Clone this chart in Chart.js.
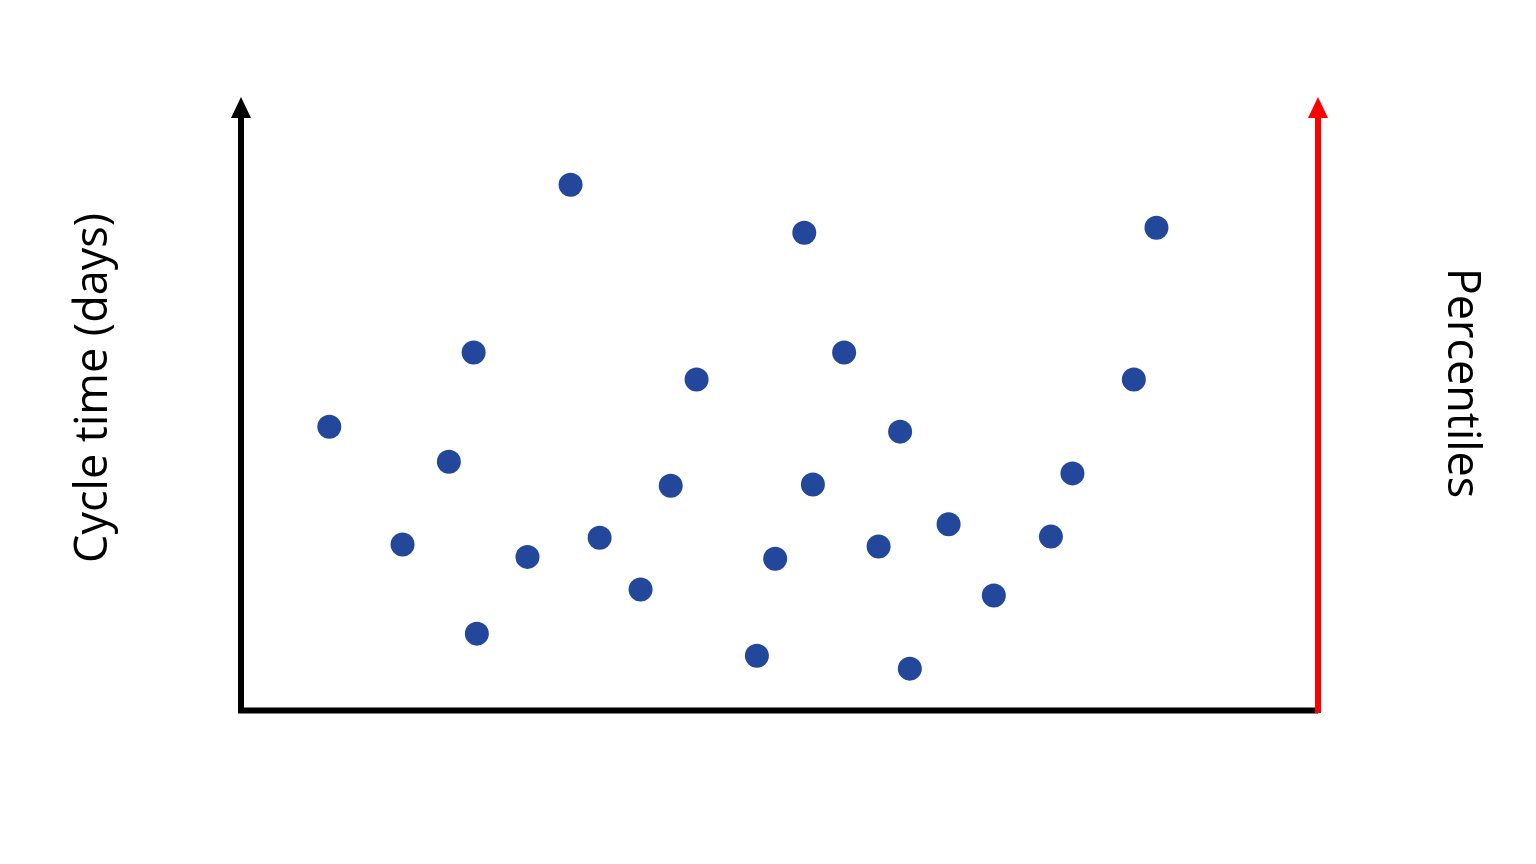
<!DOCTYPE html>
<html>
<head>
<meta charset="utf-8">
<script src="https://cdn.jsdelivr.net/npm/chart.js@4"></script>
<style>
  html, body { margin: 0; padding: 0; background: #ffffff; }
  #wrap { width: 1536px; height: 864px; position: relative; }
</style>
</head>
<body>
<div id="wrap"><canvas id="chartCycle"></canvas></div>
<script>
// puntos (x en % del eje horizontal, y en % del eje vertical)
const xValues = [8.2, 15.0, 19.3, 21.6, 21.9, 26.6, 30.6, 33.3, 37.1, 39.9, 42.3, 47.9, 49.6,
                 52.3, 53.1, 56.0, 59.2, 61.2, 62.1, 65.7, 69.9, 75.2, 77.2, 82.9, 85.0];
const yValues = [46.3, 27.1, 40.6, 58.4, 12.6, 25.1, 85.7, 28.2, 19.8, 36.7, 54.0, 9.0, 24.8,
                 77.9, 36.9, 58.4, 26.8, 45.5, 6.9, 30.4, 18.8, 28.4, 38.7, 54.0, 78.7];
const leftTitle = 'Cycle time (days)';
const rightTitle = 'Percentiles';

let puntos = [];
xValues.forEach((x, i) => {
    puntos.push({ x: x, y: yValues[i] });
});

// ejes con flechas y titulos
const axisArrows = {
    id: 'axisArrows',
    afterDraw(chart) {
        const ctx = chart.ctx;
        const a = chart.chartArea;
        const lw = 6;
        const tipH = 21;
        const halfW = 10;
        ctx.save();
        ctx.lineWidth = lw;
        ctx.lineCap = 'butt';

        // eje x
        ctx.strokeStyle = '#000000';
        ctx.beginPath();
        ctx.moveTo(a.left - lw / 2, a.bottom - 0.5);
        ctx.lineTo(a.right, a.bottom - 0.5);
        ctx.stroke();

        const arrow = (x, color) => {
            ctx.strokeStyle = color;
            ctx.fillStyle = color;
            ctx.beginPath();
            ctx.moveTo(x, a.bottom + 2);
            ctx.lineTo(x, a.top + tipH - 1);
            ctx.stroke();
            ctx.beginPath();
            ctx.moveTo(x, a.top);
            ctx.lineTo(x - halfW, a.top + tipH);
            ctx.lineTo(x + halfW, a.top + tipH);
            ctx.closePath();
            ctx.fill();
        };
        arrow(a.left, '#000000');
        arrow(a.right, '#ff0000');

        // titulos
        ctx.fillStyle = '#000000';
        ctx.font = '45px "Open Sans"';
        ctx.textAlign = 'center';
        ctx.textBaseline = 'alphabetic';

        ctx.save();
        ctx.translate(a.left - 134, 388);
        ctx.rotate(-Math.PI / 2);
        ctx.fillText(leftTitle, 0, 0);
        ctx.restore();

        ctx.save();
        ctx.translate(a.right + 130, 383);
        ctx.rotate(Math.PI / 2);
        ctx.fillText(rightTitle, 0, 0);
        ctx.restore();

        ctx.restore();
    }
};

const ctxCycle = document.getElementById('chartCycle');
const chartCycle = new Chart(ctxCycle, {
    type: 'scatter',
    data: {
        datasets: [{
            label: 'Cycle time',
            data: puntos,
            backgroundColor: '#22479b',
            borderColor: '#22479b',
            borderWidth: 0,
            pointRadius: 12,
            pointHoverRadius: 12
        }]
    },
    options: {
        responsive: true,
        maintainAspectRatio: false,
        animation: false,
        devicePixelRatio: 1,
        layout: {
            padding: { left: 241, right: 218, top: 97, bottom: 153 }
        },
        scales: {
            x: { min: 0, max: 100, display: false },
            y: { min: 0, max: 100, display: false }
        },
        plugins: {
            legend: { display: false },
            tooltip: { enabled: false }
        }
    },
    plugins: [axisArrows]
});
</script>
</body>
</html>
